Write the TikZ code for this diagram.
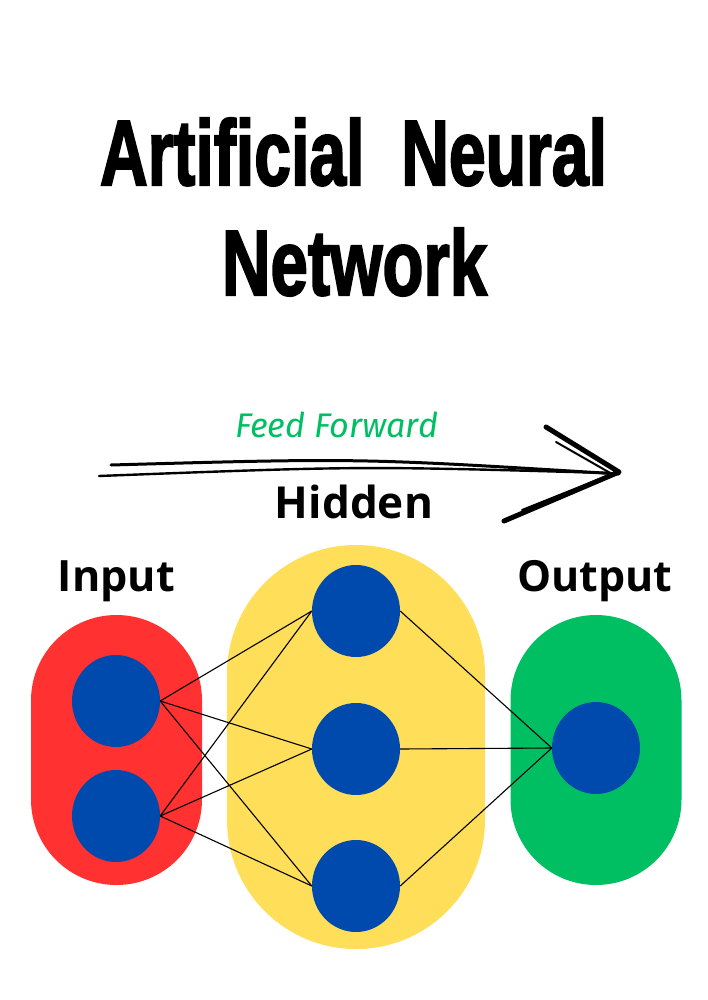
\documentclass[tikz,border=0pt]{standalone}
\usepackage{fontspec}
\usetikzlibrary{shapes.geometric}
\setmainfont{Liberation Sans}
\newfontfamily\titlefont[BoldFeatures={FakeBold=2.5}]{Liberation Sans}
\newfontfamily\labelfont{Open Sans}
\newfontfamily\handfont{Fira Sans}
\definecolor{cred}{HTML}{FF3131}
\definecolor{cyellow}{HTML}{FFDE59}
\definecolor{cgreen}{HTML}{00BF63}
\definecolor{cblue}{HTML}{004AAD}
\tikzset{
  layer/.style={rectangle, inner sep=0pt, draw=none},
  neuron/.style={ellipse, fill=cblue, inner sep=0pt, minimum width=88pt, minimum height=92pt},
  link/.style={black, line width=1.1pt},
  lbl/.style={inner sep=0pt, anchor=base},
  sketch/.style={black, line cap=round, line join=round}
}
\begin{document}
\begin{tikzpicture}[x=1pt,y=-1pt]
\useasboundingbox (0,0) rectangle (707,1000);
\fill[white] (0,0) rectangle (707,1000);
% title
\node[lbl] (t1) at (353.5,185) {\resizebox{507pt}{67pt}{\titlefont\bfseries Artificial\ \ Neural}};
\node[lbl] (t2) at (354.5,295) {\resizebox{265pt}{67pt}{\titlefont\bfseries Network}};
% feed forward
\node[lbl, text=cgreen] (ff) at (336.5,437) {\resizebox{203pt}{!}{\handfont\itshape Feed Forward}};
% sketched arrow
\draw[sketch, line width=3pt] (111,465) .. controls (360,458) .. (619,474);
\draw[sketch, line width=2.4pt] (99,476) .. controls (360,466) .. (608,473);
\draw[sketch, line width=5pt] (546,427) -- (619,472) -- (504,521);
\draw[sketch, line width=2pt] (556,442) -- (612,474) -- (522,510);
% layer labels
\node[lbl] (lh) at (354,518) {\resizebox{158pt}{!}{\labelfont\bfseries Hidden}};
\node[lbl] (li) at (116.5,591) {\resizebox{117pt}{!}{\labelfont\bfseries Input}};
\node[lbl] (lo) at (594.5,591) {\resizebox{155pt}{!}{\labelfont\bfseries Output}};
% layers
\node[layer, fill=cred, minimum width=171pt, minimum height=270pt, rounded corners=85.5pt] (inl) at (116.5,750) {};
\node[layer, fill=cyellow, minimum width=258pt, minimum height=404pt, rounded corners=129pt] (hidl) at (356,747) {};
\node[layer, fill=cgreen, minimum width=171pt, minimum height=270pt, rounded corners=85.5pt] (outl) at (596,750) {};
% neurons
\node[neuron] (i1) at (116,701) {};
\node[neuron] (i2) at (116,816) {};
\node[neuron] (h1) at (356,611) {};
\node[neuron] (h2) at (356,749) {};
\node[neuron] (h3) at (356,886) {};
\node[neuron] (o1) at (596,748) {};
% connections
\foreach \a in {i1,i2}{
  \foreach \b in {h1,h2,h3}{
    \draw[link] (\a.east) -- (\b.west);
  }
}
\foreach \b in {h1,h2,h3}{
  \draw[link] (\b.east) -- (o1.west);
}
\end{tikzpicture}
\end{document}
